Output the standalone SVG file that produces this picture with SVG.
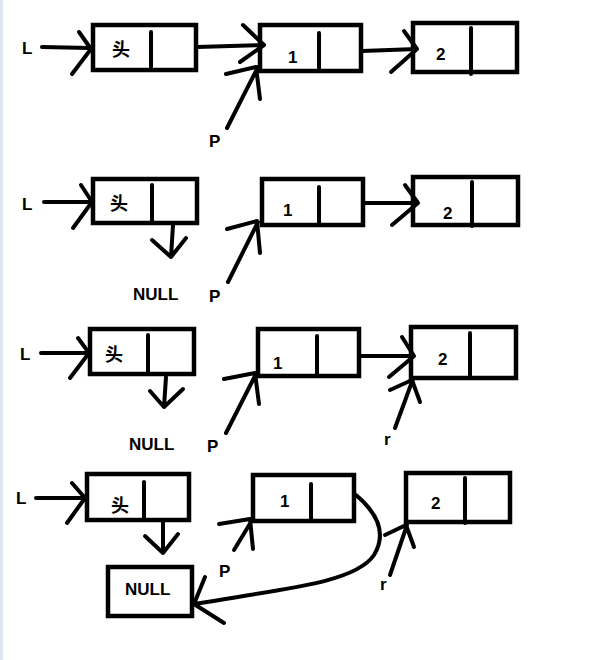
<svg xmlns="http://www.w3.org/2000/svg" width="596" height="660" viewBox="0 0 596 660">
<style>
.bx{fill:#fff;stroke:#000;stroke-width:4.5}
.dv{stroke:#000;stroke-width:4;stroke-linecap:round}
.ln{fill:none;stroke:#000;stroke-width:4;stroke-linecap:round;stroke-linejoin:round}
.t{font-family:"Liberation Sans","Noto Sans CJK SC",Arial,sans-serif;font-weight:bold;font-size:17px;fill:#000}
.c{font-size:18px}
</style>
<rect x="0" y="0" width="596" height="660" fill="#fff"/>
<rect x="0" y="0" width="3" height="660" fill="#dfe5ee"/>

<!-- Row 1 -->
<g id="r1-head"><rect class="bx" x="93" y="25" width="103" height="45"/><line class="dv" x1="151" y1="32" x2="151" y2="67"/><text class="t c" x="112" y="56">头</text></g>
<g id="r1-n1"><rect class="bx" x="260" y="25" width="101" height="46"/><line class="dv" x1="319" y1="33" x2="319" y2="68"/><text class="t" x="288" y="63">1</text></g>
<g id="r1-n2"><rect class="bx" x="413" y="23" width="104" height="49"/><line class="dv" x1="471" y1="28" x2="471" y2="74"/><text class="t" x="436" y="60">2</text></g>
<g id="r1-labels"><text class="t" x="22" y="54">L</text><text class="t" x="209" y="147">P</text></g>

<!-- Row 2 -->
<g id="r2-head"><rect class="bx" x="93" y="179" width="104" height="44"/><line class="dv" x1="152" y1="185" x2="152" y2="222"/><text class="t c" x="110" y="210">头</text></g>
<g id="r2-n1"><rect class="bx" x="262" y="179" width="101" height="46"/><line class="dv" x1="319" y1="187" x2="319" y2="224"/><text class="t" x="283" y="216">1</text></g>
<g id="r2-n2"><rect class="bx" x="413" y="177" width="105" height="48"/><line class="dv" x1="472" y1="182" x2="472" y2="226"/><text class="t" x="443" y="219">2</text></g>
<g id="r2-labels"><text class="t" x="22" y="210">L</text><text class="t" x="133" y="300">NULL</text><text class="t" x="209" y="302">P</text></g>

<!-- Row 3 -->
<g id="r3-head"><rect class="bx" x="90" y="329" width="104" height="45"/><line class="dv" x1="148" y1="335" x2="148" y2="374"/><text class="t c" x="105" y="361">头</text></g>
<g id="r3-n1"><rect class="bx" x="258" y="329" width="101" height="47"/><line class="dv" x1="317" y1="336" x2="317" y2="376"/><text class="t" x="273" y="369">1</text></g>
<g id="r3-n2"><rect class="bx" x="411" y="327" width="105" height="51"/><line class="dv" x1="470" y1="333" x2="470" y2="378"/><text class="t" x="438" y="365">2</text></g>
<g id="r3-labels"><text class="t" x="20" y="360">L</text><text class="t" x="129" y="450">NULL</text><text class="t" x="207" y="452">P</text><text class="t" x="384" y="445">r</text></g>

<!-- Row 4 -->
<g id="r4-head"><rect class="bx" x="87" y="474" width="102" height="46"/><line class="dv" x1="144" y1="482" x2="144" y2="520"/><text class="t c" x="111" y="512">头</text></g>
<g id="r4-n1"><rect class="bx" x="253" y="475" width="101" height="46"/><line class="dv" x1="311" y1="484" x2="311" y2="521"/><text class="t" x="280" y="507">1</text></g>
<g id="r4-n2"><rect class="bx" x="406" y="473" width="104" height="49"/><line class="dv" x1="465" y1="478" x2="465" y2="523"/><text class="t" x="431" y="509">2</text></g>
<g id="r4-null"><rect class="bx" x="108" y="567" width="84" height="49"/><text class="t" x="125" y="595">NULL</text></g>
<g id="r4-labels"><text class="t" x="16" y="504">L</text><text class="t" x="219" y="577">P</text><text class="t" x="380" y="590">r</text></g>

<g id="connectors">
<!-- Row 1 -->
<path class="ln" d="M42 47 L90 48 M79 32 L91 49 L72 74"/>
<path class="ln" d="M197 47 L264 45 M243 25 L264 45 L240 62"/>
<path class="ln" d="M227 128 L258 67 M226 74 L256 67 L260 99"/>
<path class="ln" d="M362 51 L417 49 M404 31 L417 49 L391 72"/>
<!-- Row 2 -->
<path class="ln" d="M44 202 L91 202 M81 185 L92 202 L73 228"/>
<path class="ln" d="M173 225 L171 257 M152 240 L171 257 L186 238"/>
<path class="ln" d="M228 282 L258 222 M227 229 L257 221 L260 253"/>
<path class="ln" d="M363 203 L418 203 M405 185 L418 203 L392 225"/>
<!-- Row 3 -->
<path class="ln" d="M41 353 L88 353 M78 338 L89 353 L70 378"/>
<path class="ln" d="M166 377 L164 407 M150 391 L164 407 L183 389"/>
<path class="ln" d="M226 433 L256 374 M224 379 L255 373 L259 404"/>
<path class="ln" d="M359 356 L414 356 M402 337 L414 356 L389 377"/>
<path class="ln" d="M395 428 L413 379 M390 390 L412 380 L420 402"/>
<!-- Row 4 -->
<path class="ln" d="M36 498 L84 498 M72 483 L85 498 L67 523"/>
<path class="ln" d="M163 522 L163 553 M145 536 L163 553 L178 534"/>
<path class="ln" d="M234 550 L251 522 M219 524 L250 519 L253 549"/>
<path class="ln" d="M390 575 L407 525 M385 535 L406 525 L414 547"/>
<path class="ln" d="M356 495 C376 512 388 532 374 555 C356 582 290 588 194 604 M205 577 L194 604 L224 623"/>
</g>
</svg>
